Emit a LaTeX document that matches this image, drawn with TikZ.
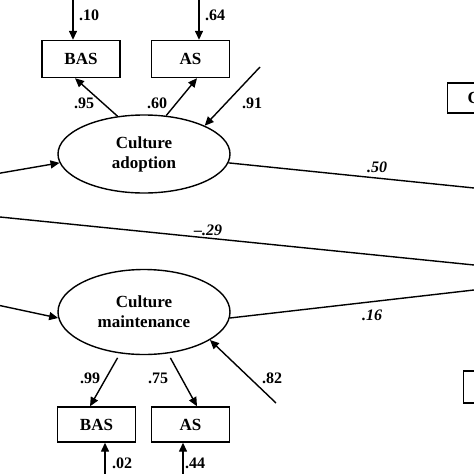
\documentclass[tikz,border=0pt]{standalone}
\usepackage{fontspec}
\setmainfont{Liberation Serif}
\usetikzlibrary{shapes.geometric, arrows.meta}

\begin{document}
\begin{tikzpicture}[x=1pt, y=-1pt, line width=1.4pt,
  box/.style={draw, rectangle, minimum width=78, minimum height=37, inner sep=0pt, font=\fontsize{17}{20}\selectfont\bfseries},
  latent/.style={draw, ellipse, minimum width=172, minimum height=80, inner sep=0pt, align=center, font=\fontsize{17}{20}\selectfont\bfseries},
  lab/.style={font=\fontsize{16}{19}\selectfont\bfseries, inner sep=0pt},
  coef/.style={font=\fontsize{16}{19}\selectfont\bfseries\itshape, inner sep=0pt},
  arr/.style={-{Triangle[length=9pt, width=8pt]}}]
\clip (0,0) rectangle (474,474);
% latente Variablen
\node[latent, minimum height=78] (adopt) at (144,154) {Culture\\adoption};
\node[latent, minimum height=85] (maint) at (144,312) {Culture\\maintenance};
% Indikatoren
\node[box] (bas1) at (81,59) {BAS};
\node[box] (as1) at (190.5,59) {AS};
\node[box, minimum height=35] (bas2) at (96.5,424.5) {BAS};
\node[box, minimum height=35] (as2) at (190.5,424.5) {AS};
% rechts
\node[box, anchor=west, minimum width=0pt, minimum height=30, inner xsep=20pt] (ctx) at (447,98) {C};
\node[box, anchor=west, minimum height=32, minimum width=40] (wbox) at (463,387) {};
% freie Enden
\coordinate (e1) at (73,-5);
\coordinate (e2) at (199,-5);
\coordinate (e3) at (105,480);
\coordinate (e4) at (183,480);
\coordinate (d1) at (260,67);
\coordinate (d2) at (276,403);
\coordinate (x1) at (-5,174);
\coordinate (x2) at (-5,304.5);
\coordinate (x3) at (-5,216.5);
\coordinate (y1) at (480,188.6);
\coordinate (y2) at (480,289.3);
\coordinate (y3) at (480,265.6);
% Pfeile
\draw[arr] (e1) -- (e1 |- bas1.north);
\draw[arr] (e2) -- (e2 |- as1.north);
\draw[arr] (e3) -- (e3 |- bas2.south);
\draw[arr] (e4) -- (e4 |- as2.south);
\draw[arr] (adopt.125) -- ([xshift=-6pt]bas1.south);
\draw[arr] (adopt.60) -- ([xshift=6.5pt]as1.south);
\draw[arr, shorten <=5pt] (maint.240) -- ([xshift=-6.5pt]bas2.north);
\draw[arr, shorten <=5pt] (maint.300) -- ([xshift=6.5pt]as2.north);
\draw[arr] (d1) -- (adopt.25);
\draw[arr] (d2) -- (maint.-23);
\draw[arr] (x1) -- (adopt.186);
\draw[arr] (x2) -- (maint.184);
\draw (adopt.-6) -- (y1);
\draw (maint.-4) -- (y2);
\draw (x3) -- (y3);
% Text
\node[lab] (l10) at (89,15) {.10};
\node[lab] (l64) at (215,15) {.64};
\node[lab] (l95) at (84,103) {.95};
\node[lab] (l60) at (157,103) {.60};
\node[lab] (l91) at (252,103) {.91};
\node[lab] (l99) at (90,378) {.99};
\node[lab] (l75) at (158,378) {.75};
\node[lab] (l82) at (272,378) {.82};
\node[lab] (l02) at (122,463) {.02};
\node[lab] (l44) at (195,463) {.44};
\node[coef] (c50) at (377,167) {.50};
\node[coef] (c29) at (208,230) {--.29};
\node[coef] (c16) at (372,315) {.16};
\end{tikzpicture}
\end{document}
